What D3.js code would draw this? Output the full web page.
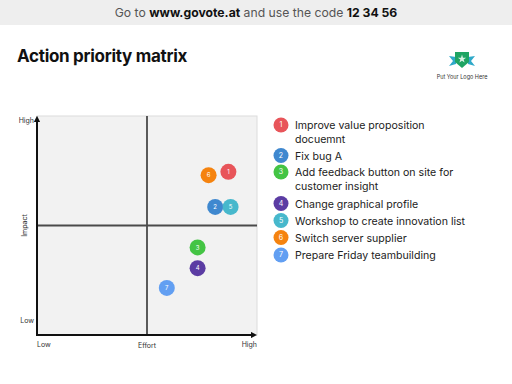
<!DOCTYPE html>
<html>
<head>
<meta charset="utf-8">
<script src="https://cdn.jsdelivr.net/npm/d3@7"></script>
<style>
  html, body { margin: 0; padding: 0; background: #fff; }
  svg { display: block; font-family: Inter, "Noto Sans", sans-serif; }
</style>
</head>
<body>
<svg id="chart" width="512" height="384"></svg>
<script>
// item data (effort 0-10, impact 0-10)
const ids = [1, 2, 3, 4, 5, 6, 7];
const labels = [
  ['Improve value proposition', 'docuemnt'],
  ['Fix bug A'],
  ['Add feedback button on site for', 'customer insight'],
  ['Change graphical profile'],
  ['Workshop to create innovation list'],
  ['Switch server supplier'],
  ['Prepare Friday teambuilding'],
];
const effort = [8.7, 8.1, 7.3, 7.3, 8.8, 7.8, 5.9];
const impact = [7.45, 5.85, 4.0, 3.05, 5.85, 7.3, 2.15];
const colors = ['#e8555a', '#3f88cf', '#44c444', '#5b3ca3', '#47b8cc', '#f5830f', '#629ff2'];

const svg = d3.select('#chart');

// top banner
svg.append('rect').attr('x', 0).attr('y', 0).attr('width', 512).attr('height', 25).attr('fill', '#eeeeee');
const banner = svg.append('text').attr('x', 256).attr('y', 17).attr('text-anchor', 'middle')
  .attr('font-size', '12.2px').attr('fill', '#555');
banner.append('tspan').text('Go to ');
banner.append('tspan').attr('font-weight', 700).attr('fill', '#111').text('www.govote.at');
banner.append('tspan').text(' and use the code ');
banner.append('tspan').attr('font-weight', 700).attr('fill', '#111').text('12 34 56');

// title
svg.append('text').attr('x', 17).attr('y', 62).attr('font-size', '17px').attr('font-weight', 700)
  .attr('fill', '#111').attr('letter-spacing', '-0.3px').text('Action priority matrix');

// logo placeholder
const logo = svg.append('g').attr('transform', 'translate(462,60)');
logo.append('path').attr('d', 'M-13,-4 L-6,-3 L-6,4 L-13,6 L-9,1 Z').attr('fill', '#2fa9c9');
logo.append('path').attr('d', 'M13,-4 L6,-3 L6,4 L13,6 L9,1 Z').attr('fill', '#2fa9c9');
logo.append('path').attr('d', 'M-7,-8 L7,-8 L7,2 L0,8 L-7,2 Z').attr('fill', '#1fa463');
logo.append('path').attr('d', d3.symbol(d3.symbolStar, 22)()).attr('transform', 'translate(0,-1)').attr('fill', '#d9f2e4');
svg.append('text').attr('x', 462).attr('y', 79).attr('text-anchor', 'middle')
  .attr('font-size', '5.5px').attr('fill', '#333').text('Put Your Logo Here');

// plot
const x = d3.scaleLinear().domain([0, 10]).range([37, 257]);
const y = d3.scaleLinear().domain([0, 10]).range([335, 116]);

svg.append('rect').attr('x', x(0)).attr('y', y(10)).attr('width', x(10) - x(0)).attr('height', y(0) - y(10))
  .attr('fill', '#f2f2f2').attr('stroke', '#dcdcdc').attr('stroke-width', 1);

// quadrant dividers
svg.append('line').attr('x1', x(5)).attr('x2', x(5)).attr('y1', y(10)).attr('y2', y(0))
  .attr('stroke', '#4a4a4a').attr('stroke-width', 1.8);
svg.append('line').attr('x1', x(0)).attr('x2', x(10)).attr('y1', y(5)).attr('y2', y(5))
  .attr('stroke', '#4a4a4a').attr('stroke-width', 1.8);

// axes with arrows
svg.append('defs').append('marker').attr('id', 'arrow').attr('viewBox', '0 0 10 10')
  .attr('refX', 5).attr('refY', 5).attr('markerWidth', 3.2).attr('markerHeight', 3.2).attr('orient', 'auto')
  .append('path').attr('d', 'M0,0 L10,5 L0,10 Z').attr('fill', '#111');
svg.append('line').attr('x1', x(0)).attr('x2', x(0)).attr('y1', y(0) + 1).attr('y2', y(10) + 3)
  .attr('stroke', '#111').attr('stroke-width', 2).attr('marker-end', 'url(#arrow)');
svg.append('line').attr('x1', x(0) - 1).attr('x2', x(10) - 3).attr('y1', y(0)).attr('y2', y(0))
  .attr('stroke', '#111').attr('stroke-width', 2).attr('marker-end', 'url(#arrow)');

const axisText = { 'font-size': '7px', fill: '#333' };
function label(px, py, txt, anchor, rot) {
  const t = svg.append('text').attr('x', px).attr('y', py).attr('text-anchor', anchor || 'start').text(txt);
  Object.entries(axisText).forEach(([k, v]) => t.attr(k, v));
  if (rot) t.attr('transform', `rotate(${rot},${px},${py})`);
  return t;
}
label(x(0) - 3, y(10) + 7, 'High', 'end');
label(x(0) - 3, y(0) - 12, 'Low', 'end');
label(x(0) + 0, y(0) + 12, 'Low', 'start');
label(x(5), y(0) + 13, 'Effort', 'middle');
label(x(10), y(0) + 12, 'High', 'end');
label(x(0) - 10, y(5), 'Impact', 'middle', -90);

// points
const pts = svg.append('g').selectAll('g').data(ids).enter().append('g')
  .attr('transform', (d, i) => `translate(${x(effort[i])},${y(impact[i])})`);
pts.append('circle').attr('r', 8).attr('fill', (d, i) => colors[i]);
pts.append('text').attr('text-anchor', 'middle').attr('dy', '0.35em')
  .attr('font-size', '6px').attr('fill', '#fff').text(d => d);

// legend
const legY = [125, 155.5, 172, 203.5, 220.5, 237.5, 255];
const leg = svg.append('g').selectAll('g').data(ids).enter().append('g')
  .attr('transform', (d, i) => `translate(281,${legY[i]})`);
leg.append('circle').attr('r', 7.5).attr('fill', (d, i) => colors[i]);
leg.append('text').attr('text-anchor', 'middle').attr('dy', '0.35em')
  .attr('font-size', '7px').attr('fill', '#fff').text(d => d);
leg.each(function (d, i) {
  const t = d3.select(this).append('text').attr('x', 14).attr('y', 4)
    .attr('font-size', '10.6px').attr('fill', '#222');
  labels[i].forEach((line, j) => t.append('tspan').attr('x', 14).attr('dy', j ? 14 : 0).text(line));
});
</script>
</body>
</html>
